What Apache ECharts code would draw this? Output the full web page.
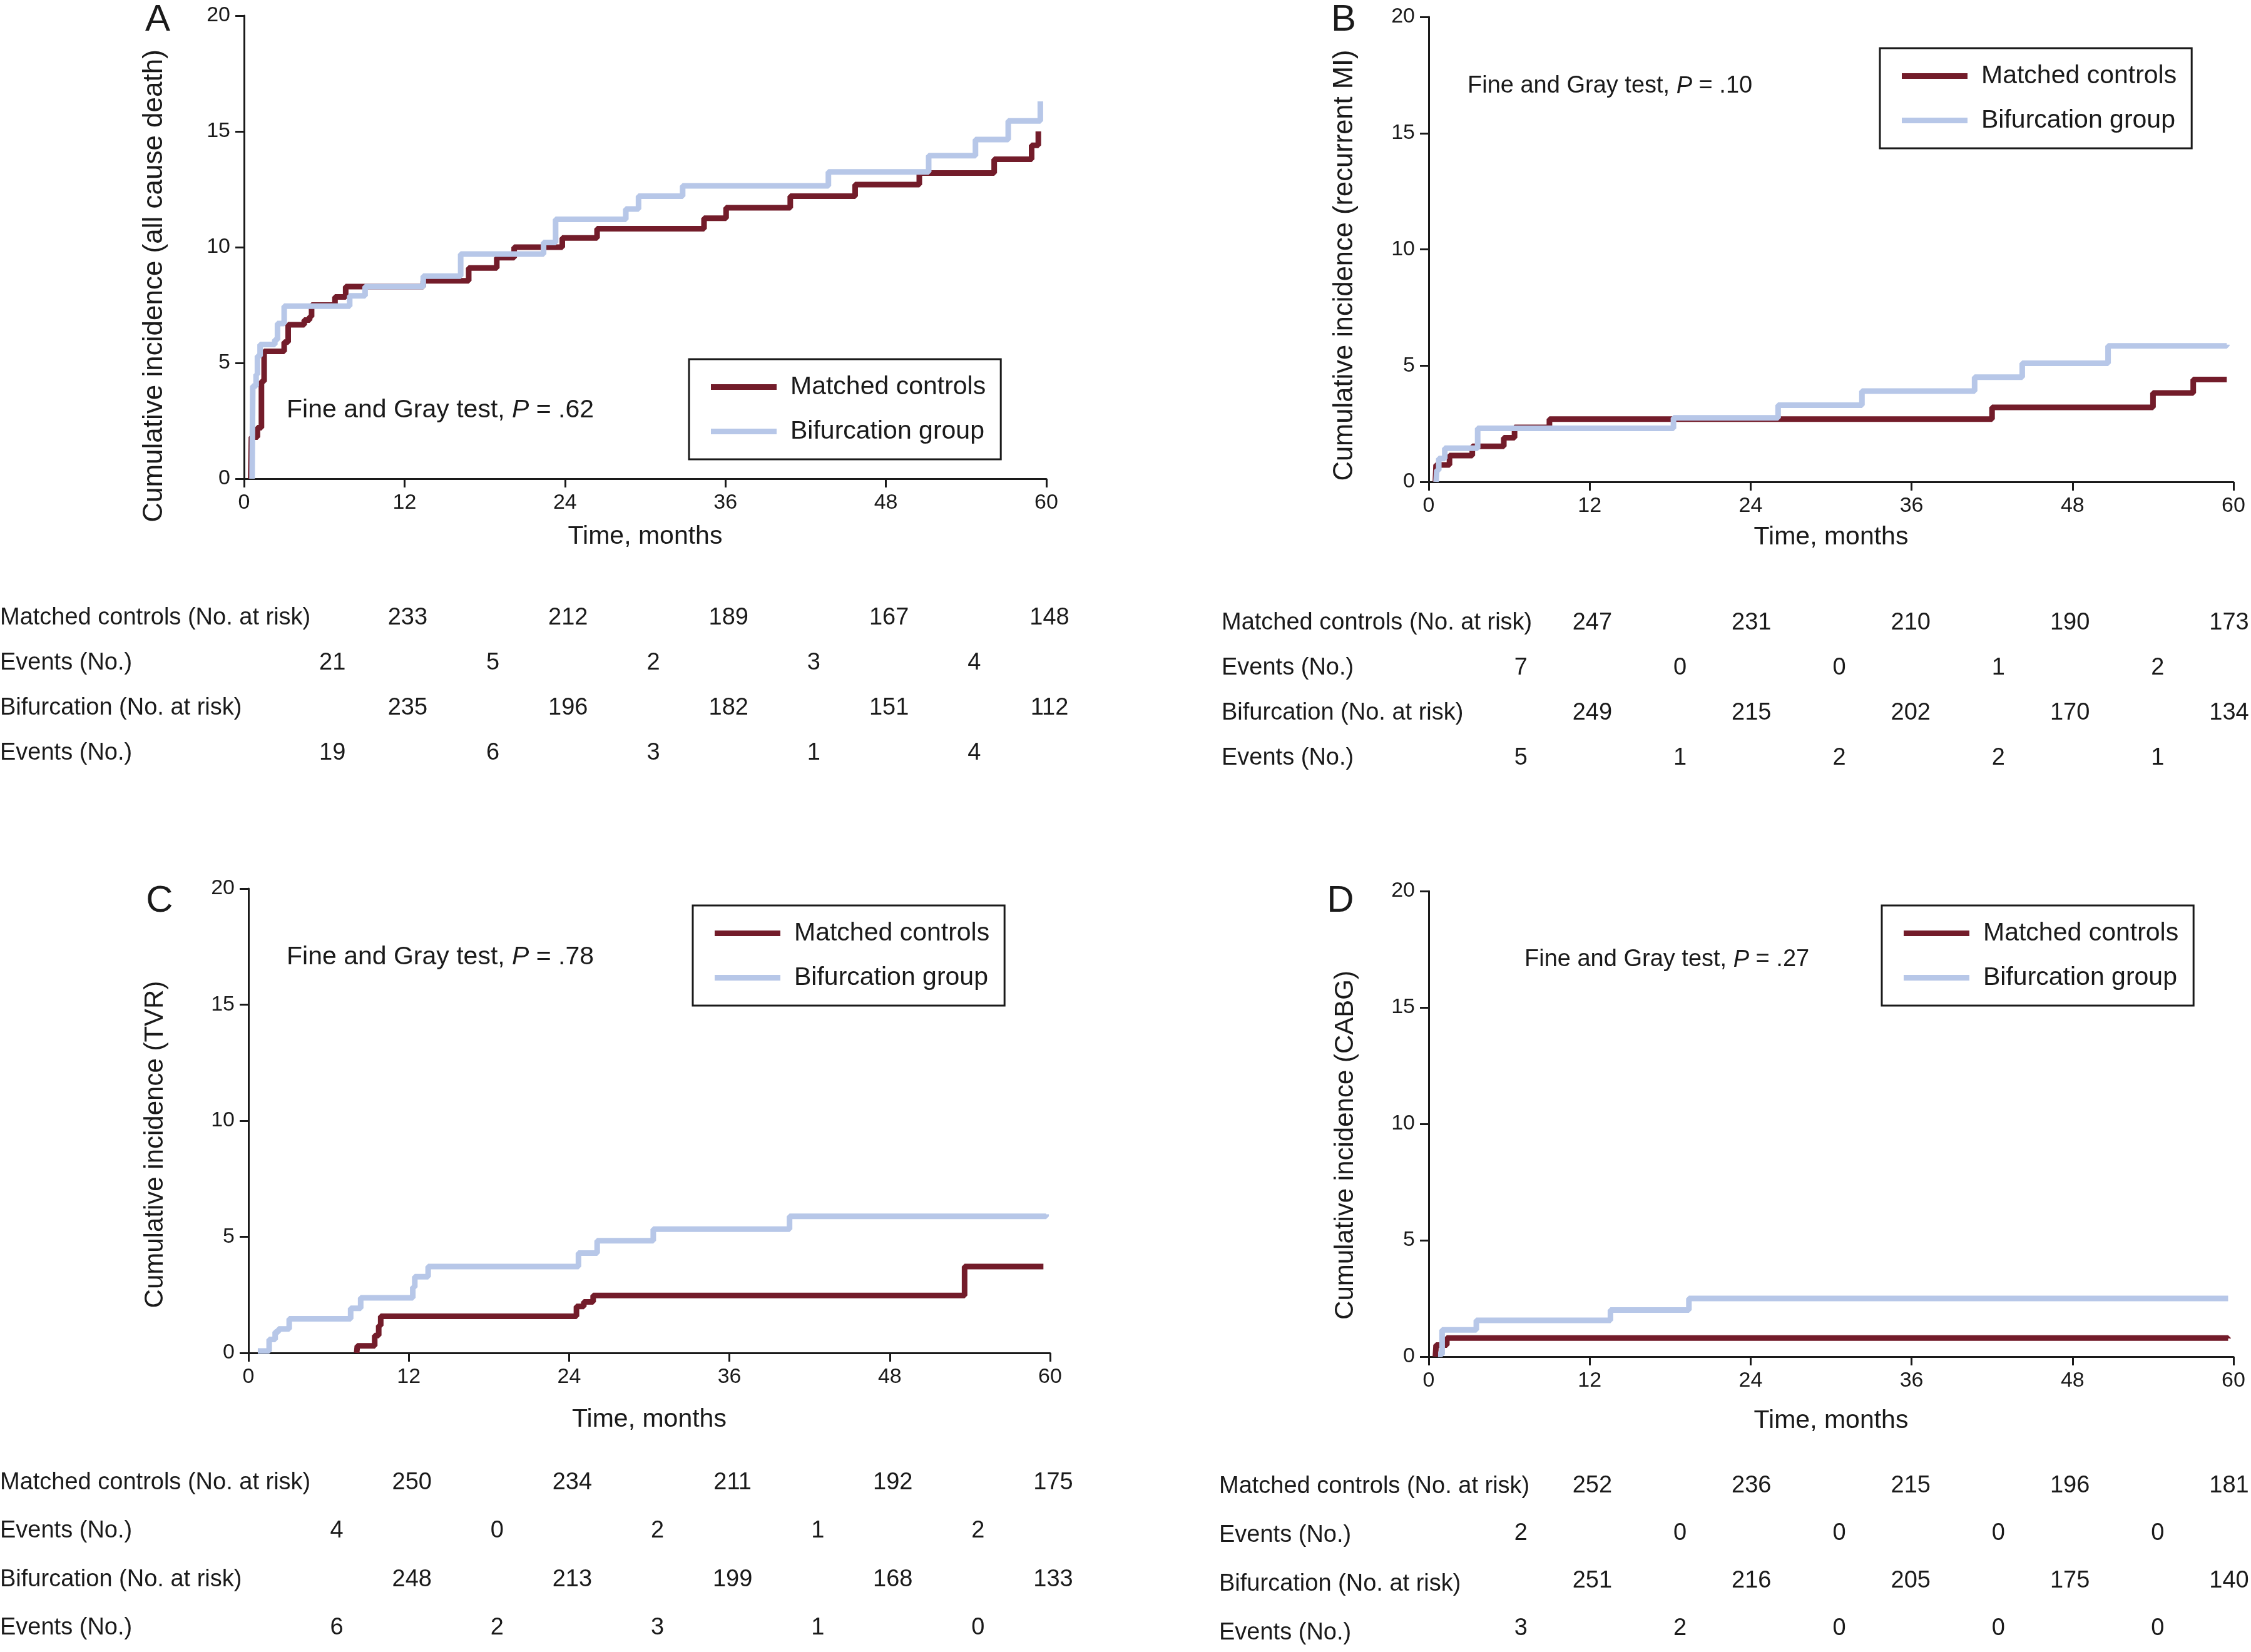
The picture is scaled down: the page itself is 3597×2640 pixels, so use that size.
<!DOCTYPE html>
<html>
<head>
<meta charset="utf-8">
<script src="https://cdn.jsdelivr.net/npm/echarts@6/dist/echarts.min.js"></script>
<style>html,body{margin:0;padding:0;background:#fff;}#c{width:3597px;height:2640px;}</style>
</head>
<body>
<div id="c"></div>
<script>
// ---------- data ----------
const seriesNames = ['Matched controls', 'Bifurcation group'];
const panelLetters = ['A', 'B', 'C', 'D'];
const yTitles = ['Cumulative incidence (all cause death)', 'Cumulative incidence (recurrent MI)', 'Cumulative incidence (TVR)', 'Cumulative incidence (CABG)'];
const pValues = ['.62', '.10', '.78', '.27'];
const rowLabels = ['Matched controls (No. at risk)', 'Events (No.)', 'Bifurcation (No. at risk)', 'Events (No.)'];
const riskMonths = [12, 24, 36, 48, 60];
const eventMonths = [6, 18, 30, 42, 54];

// [month, cumulative incidence %] - value applies from that month on
const deathMatched = [[0.5,0],[0.55,1.8],[1.0,2.2],[1.3,4.2],[1.5,5.5],[3.0,5.9],[3.3,6.65],[4.5,6.85],[4.9,7.0],[5.05,7.5],[6.8,7.85],[7.6,8.3],[13.4,8.55],[16.8,9.1],[18.9,9.55],[20.2,10.0],[23.8,10.4],[26.4,10.8],[34.4,11.25],[36.05,11.7],[40.85,12.2],[45.7,12.7],[50.5,13.2],[56.1,13.8],[58.9,14.4],[59.4,15.0]];
const deathBifurcation = [[0.6,0],[0.65,4.0],[0.9,4.5],[1.0,5.3],[1.2,5.8],[2.3,6.0],[2.5,6.7],[3.0,7.45],[7.9,7.9],[9.05,8.3],[13.4,8.75],[16.2,9.7],[22.4,10.2],[23.3,11.2],[28.55,11.65],[29.5,12.2],[32.8,12.65],[43.7,13.25],[51.2,13.95],[54.7,14.65],[57.15,15.45],[59.55,16.3]];
const miMatched = [[0.5,0],[0.55,0.73],[1.55,1.13],[3.25,1.53],[5.6,1.9],[6.4,2.34],[9.0,2.7],[42.0,3.2],[54.0,3.82],[57.0,4.4],[59.5,4.4]];
const miBifurcation = [[0.55,0],[0.6,0.5],[0.75,1.0],[1.2,1.45],[3.65,2.3],[18.25,2.75],[26.05,3.3],[32.3,3.9],[40.7,4.5],[44.25,5.1],[50.65,5.85],[59.5,5.9]];
const tvrMatched = [[8.1,0],[8.15,0.3],[9.45,0.75],[9.75,1.17],[9.9,1.58],[24.55,2.0],[25.1,2.2],[25.8,2.47],[53.6,3.72],[59.5,3.72]];
const tvrBifurcation = [[0.7,0.08],[1.55,0.58],[2.0,0.9],[2.25,1.03],[3.05,1.47],[7.65,1.92],[8.4,2.37],[12.3,2.83],[12.45,3.28],[13.45,3.72],[24.7,4.3],[26.1,4.83],[30.3,5.33],[40.5,5.88],[59.7,5.97]];
const cabgMatched = [[0.5,0],[0.55,0.5],[1.35,0.8],[59.6,0.78]];
const cabgBifurcation = [[0.7,0.1],[1.0,1.15],[3.55,1.56],[13.55,2.0],[19.4,2.5],[59.6,2.5]];

// numbers at risk / events
const deathRiskMatched = [233, 212, 189, 167, 148];
const deathEventsMatched = [21, 5, 2, 3, 4];
const deathRiskBifurcation = [235, 196, 182, 151, 112];
const deathEventsBifurcation = [19, 6, 3, 1, 4];
const miRiskMatched = [247, 231, 210, 190, 173];
const miEventsMatched = [7, 0, 0, 1, 2];
const miRiskBifurcation = [249, 215, 202, 170, 134];
const miEventsBifurcation = [5, 1, 2, 2, 1];
const tvrRiskMatched = [250, 234, 211, 192, 175];
const tvrEventsMatched = [4, 0, 2, 1, 2];
const tvrRiskBifurcation = [248, 213, 199, 168, 133];
const tvrEventsBifurcation = [6, 2, 3, 1, 0];
const cabgRiskMatched = [252, 236, 215, 196, 181];
const cabgEventsMatched = [2, 0, 0, 0, 0];
const cabgRiskBifurcation = [251, 216, 205, 175, 140];
const cabgEventsBifurcation = [3, 2, 0, 0, 0];

// ---------- layout / styles ----------
const FONT = '"Liberation Sans", Arial, Helvetica, sans-serif';
const INK = '#1a1a1a';
const COLORS = ['#731C2A', '#B7C7E8'];

const curves = [
  [deathMatched, deathBifurcation],
  [miMatched, miBifurcation],
  [tvrMatched, tvrBifurcation],
  [cabgMatched, cabgBifurcation]
];
const tables = [
  [deathRiskMatched, deathEventsMatched, deathRiskBifurcation, deathEventsBifurcation],
  [miRiskMatched, miEventsMatched, miRiskBifurcation, miEventsBifurcation],
  [tvrRiskMatched, tvrEventsMatched, tvrRiskBifurcation, tvrEventsBifurcation],
  [cabgRiskMatched, cabgEventsMatched, cabgRiskBifurcation, cabgEventsBifurcation]
];

const L = [
  {grid:{left:390, top:25, width:1282, height:740}, nameGap:72, letter:[252,32], ytitle:[247,457], ySize:44,
   legend:[1101,574], ptext:[458,656], pSize:41, table:{left:390, width:1282, top:952, height:288}, rowX:0, riskDx:5},
  {grid:{left:2283, top:27, width:1286, height:743}, nameGap:68, letter:[2147,32], ytitle:[2149,424], ySize:43.5,
   legend:[3004,77], ptext:[2345,138], pSize:38, table:{left:2290, width:1272, top:960, height:287}, rowX:1952, riskDx:0},
  {grid:{left:397, top:1420, width:1281, height:742}, nameGap:86, letter:[255,1440], ytitle:[248,1829], ySize:42,
   legend:[1107,1447], ptext:[458,1530], pSize:41, table:{left:397, width:1281, top:2331, height:309}, rowX:0, riskDx:5},
  {grid:{left:2283, top:1424, width:1286, height:744}, nameGap:82, letter:[2142,1440], ytitle:[2150,1830], ySize:42,
   legend:[3007,1447], ptext:[2436,1534], pSize:38, table:{left:2290, width:1272, top:2337, height:311}, rowX:1948, riskDx:0}
];

const grids = [], xAxes = [], yAxes = [], series = [], legends = [], graphics = [];

L.forEach((p, k) => {
  grids.push(Object.assign({containLabel:false}, p.grid));
  xAxes.push({
    gridIndex:k, type:'value', min:0, max:60, interval:12,
    axisLine:{show:true, onZero:false, lineStyle:{color:INK, width:3}},
    axisTick:{show:true, inside:false, length:14, lineStyle:{color:INK, width:3}},
    axisLabel:{fontSize:34, color:INK, fontFamily:FONT, margin:22},
    splitLine:{show:false},
    name:'Time, months', nameLocation:'middle', nameGap:p.nameGap,
    nameTextStyle:{fontSize:41, color:INK, fontFamily:FONT}
  });
  yAxes.push({
    gridIndex:k, type:'value', min:0, max:20, interval:5,
    axisLine:{show:true, onZero:false, lineStyle:{color:INK, width:3}},
    axisTick:{show:true, inside:false, length:14, lineStyle:{color:INK, width:3}},
    axisLabel:{fontSize:34, color:INK, fontFamily:FONT, margin:22},
    splitLine:{show:false}
  });
  curves[k].forEach((d, s) => {
    series.push({
      name:seriesNames[s], type:'line', step:'end', data:d,
      xAxisIndex:k, yAxisIndex:k, symbol:'none', showSymbol:false,
      lineStyle:{color:COLORS[s], width:9}, itemStyle:{color:COLORS[s]},
      z: 2 + s, animation:false
    });
  });
  legends.push({
    left:p.legend[0], top:p.legend[1], orient:'vertical', data:seriesNames,
    icon:'rect', itemWidth:105, itemHeight:9, itemGap:30,
    borderColor:INK, borderWidth:3, padding:[24,24,24,35],
    backgroundColor:'#fff', selectedMode:false,
    textStyle:{fontSize:41, lineHeight:41, color:INK, fontFamily:FONT, padding:[0,0,0,17]}
  });
  graphics.push({type:'text', x:p.letter[0], y:p.letter[1],
    style:{text:panelLetters[k], fontSize:60, fontFamily:FONT, fill:INK, align:'center', verticalAlign:'middle'}});
  graphics.push({type:'text', x:p.ytitle[0], y:p.ytitle[1], rotation:Math.PI/2,
    style:{text:yTitles[k], fontSize:p.ySize, fontFamily:FONT, fill:INK, align:'center', verticalAlign:'middle'}});
  graphics.push({type:'text', x:p.ptext[0], y:p.ptext[1],
    style:{text:'{n|Fine and Gray test, }{i|P}{n| = ' + pValues[k] + '}', verticalAlign:'middle', align:'left',
      rich:{n:{fontSize:p.pSize, fontFamily:FONT, fill:INK, color:INK},
            i:{fontSize:p.pSize, fontFamily:FONT, fontStyle:'italic', fill:INK, color:INK}}}});
});

// table grids (hidden axes sharing the time scale)
L.forEach((p, k) => {
  const gi = 4 + k;
  grids.push({left:p.table.left, width:p.table.width, top:p.table.top, height:p.table.height});
  xAxes.push({gridIndex:gi, type:'value', min:0, max:60, show:false});
  yAxes.push({gridIndex:gi, type:'value', min:-0.5, max:3.5, inverse:true, show:false});
  const items = [];
  tables[k].forEach((row, r) => {
    const xs = (r % 2 === 0) ? riskMonths : eventMonths;
    row.forEach((v, j) => items.push([xs[j], r, v]));
  });
  const riskDx = p.riskDx;
  series.push({
    type:'custom', xAxisIndex:gi, yAxisIndex:gi, data:items, animation:false, silent:true,
    renderItem:(params, api) => {
      const r = api.value(1);
      const pt = api.coord([api.value(0), r]);
      const dx = (r % 2 === 0) ? riskDx : 13;
      return {type:'text', x:pt[0] + dx, y:pt[1],
        style:{text:String(api.value(2)), fontSize:38, fontFamily:FONT, fill:INK, align:'center', verticalAlign:'middle'}};
    }
  });
  const rowH = p.table.height / 4;
  rowLabels.forEach((t, r) => {
    graphics.push({type:'text', x:p.rowX, y:p.table.top + rowH * (r + 0.5),
      style:{text:t, fontSize:38, fontFamily:FONT, fill:INK, align:'left', verticalAlign:'middle'}});
  });
});

const chart = echarts.init(document.getElementById('c'), null, {renderer:'canvas'});
chart.setOption({
  backgroundColor:'#fff',
  animation:false,
  grid:grids, xAxis:xAxes, yAxis:yAxes, series:series, legend:legends,
  graphic:graphics
});
</script>
</body>
</html>
